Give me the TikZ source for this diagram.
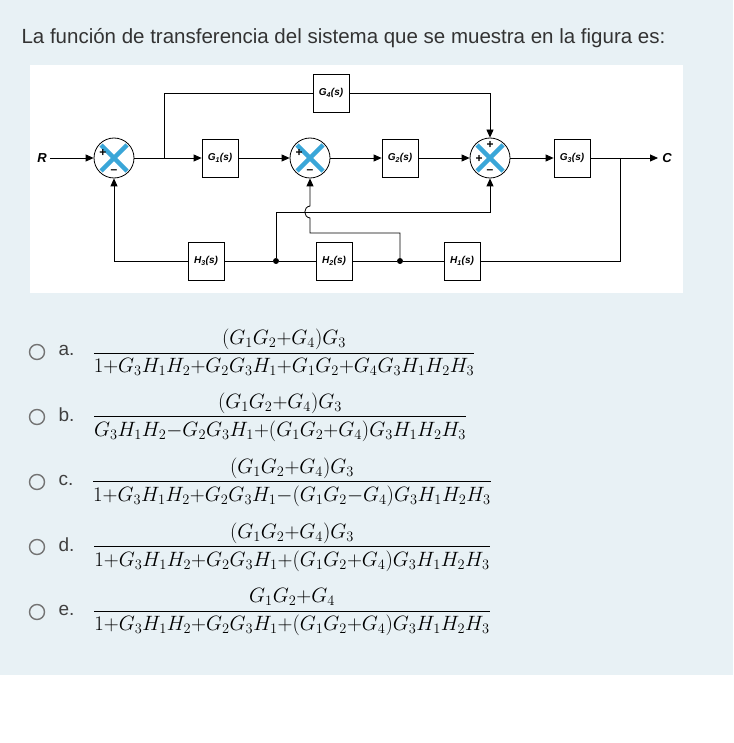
\documentclass[tikz,border=0pt]{standalone}
\usepackage{fontspec}
\setmainfont{Liberation Sans}
\usepackage{amsmath}
\usetikzlibrary{arrows.meta}
\definecolor{bgc}{HTML}{E8F1F5}
\definecolor{xblue}{HTML}{3AA6D8}
\begin{document}
\begin{tikzpicture}[x=1pt,y=-1pt,
  blk/.style={draw,thick,fill=white,minimum width=36pt,minimum height=38pt,inner sep=0pt,font=\fontsize{10}{10}\selectfont\itshape\bfseries},
  sumj/.style={draw,thick,circle,minimum size=40pt,inner sep=0pt,
    path picture={\draw[xblue,line width=4.5pt] ([shift={(7pt,-7pt)}]path picture bounding box.north west) -- ([shift={(-7pt,7pt)}]path picture bounding box.south east);
      \draw[xblue,line width=4.5pt] ([shift={(7pt,7pt)}]path picture bounding box.south west) -- ([shift={(-7pt,-7pt)}]path picture bounding box.north east);}},
  sg/.style={font=\fontsize{12}{12}\selectfont\bfseries,inner sep=0pt},
  ln/.style={thick},
  ar/.style={thick,-{Triangle[length=8pt,width=7pt]}},
  dot/.style={circle,fill,inner sep=0pt,minimum size=6pt},
  opt/.style={draw=gray!90!black,line width=1.4pt,circle,minimum size=15pt,inner sep=0pt},
  lab/.style={anchor=west,font=\fontsize{19}{20}\selectfont,text=black!75},
  frac/.style={font=\fontsize{21}{22}\selectfont}]
\useasboundingbox (0,0) rectangle (733,743);
\fill[bgc] (0,0) rectangle (733,675);
\fill[white] (0,675) rectangle (733,743);
\fill[white] (30,65) rectangle (683,293);
\node[anchor=west,font=\fontsize{20.5}{22}\selectfont,text=black!80] (title) at (18,38) {La función de transferencia del sistema que se muestra en la figura es:};
% diagram
\node[font=\fontsize{13}{13}\selectfont\itshape\bfseries] (R) at (42,158) {R};
\node[sumj] (s1) at (114,158) {};
\node[sumj] (s2) at (310,158) {};
\node[sumj] (s3) at (490,158) {};
\node[blk] (G1) at (220,158) {G\textsubscript{1}(s)};
\node[blk] (G2) at (400,158) {G\textsubscript{2}(s)};
\node[blk] (G3) at (572,158) {G\textsubscript{3}(s)};
\node[blk] (G4) at (331,93) {G\textsubscript{4}(s)};
\node[blk] (H3) at (206,261) {H\textsubscript{3}(s)};
\node[blk] (H2) at (334,261) {H\textsubscript{2}(s)};
\node[blk] (H1) at (462,261) {H\textsubscript{1}(s)};
\node[font=\fontsize{13}{13}\selectfont\itshape\bfseries] (C) at (667,158) {C};
\coordinate (b1) at (164,158);
\coordinate (b2) at (620,158);
\coordinate (cend) at (658,158);
\node[dot] (d1) at (276,261) {};
\node[dot] (d2) at (400,261) {};
\node[sg] (p1) at (103,153) {+};
\node[sg] (m1) at (114,172) {--};
\node[sg] (p2) at (299,153) {+};
\node[sg] (m2) at (310,172) {--};
\node[sg] (p3) at (479,159) {+};
\node[sg] (q3) at (490,145) {+};
\node[sg] (m3) at (490,172) {--};
% connectors
\draw[ar] (R) -- (s1);
\draw[ar] (s1) -- (G1);
\draw[ar] (G1) -- (s2);
\draw[ar] (s2) -- (G2);
\draw[ar] (G2) -- (s3);
\draw[ar] (s3) -- (G3);
\draw[ar] (G3) -- (cend);
\draw[ln] (b1) |- (G4);
\draw[ar] (G4) -| (s3);
\draw[ln] (b2) |- (H1);
\draw[ln] (H1) -- (d2);
\draw[ln] (d2) -- (H2);
\draw[ln] (H2) -- (d1);
\draw[ln] (d1) -- (H3);
\draw[ar] (H3) -| (s1);
\draw[ar] (d1) |- (490,212) -- (s3);
\draw[ar] (d2) |- (310,233) -- (310,218) .. controls (303,217) and (303,207) .. (310,206) -- (s2);
% options
\foreach \i/\l/\y in {a/a./352,b/b./417,c/c./482,d/d./547,e/e./612}{
  \node[opt] (o\i) at (37,\y) {};
  \node[lab] (l\i) at (55,\y-2) {\l};
}
\node[frac] (fa) at (284,352) {$\dfrac{(G_1G_2{+}G_4)G_3}{1{+}G_3H_1H_2{+}G_2G_3H_1{+}G_1G_2{+}G_4G_3H_1H_2H_3}$};
\node[frac] (fb) at (280,417) {$\dfrac{(G_1G_2{+}G_4)G_3}{G_3H_1H_2{-}G_2G_3H_1{+}(G_1G_2{+}G_4)G_3H_1H_2H_3}$};
\node[frac] (fc) at (292,482) {$\dfrac{(G_1G_2{+}G_4)G_3}{1{+}G_3H_1H_2{+}G_2G_3H_1{-}(G_1G_2{-}G_4)G_3H_1H_2H_3}$};
\node[frac] (fd) at (292,547) {$\dfrac{(G_1G_2{+}G_4)G_3}{1{+}G_3H_1H_2{+}G_2G_3H_1{+}(G_1G_2{+}G_4)G_3H_1H_2H_3}$};
\node[frac] (fe) at (292,612) {$\dfrac{G_1G_2{+}G_4}{1{+}G_3H_1H_2{+}G_2G_3H_1{+}(G_1G_2{+}G_4)G_3H_1H_2H_3}$};
\end{tikzpicture}
\end{document}
